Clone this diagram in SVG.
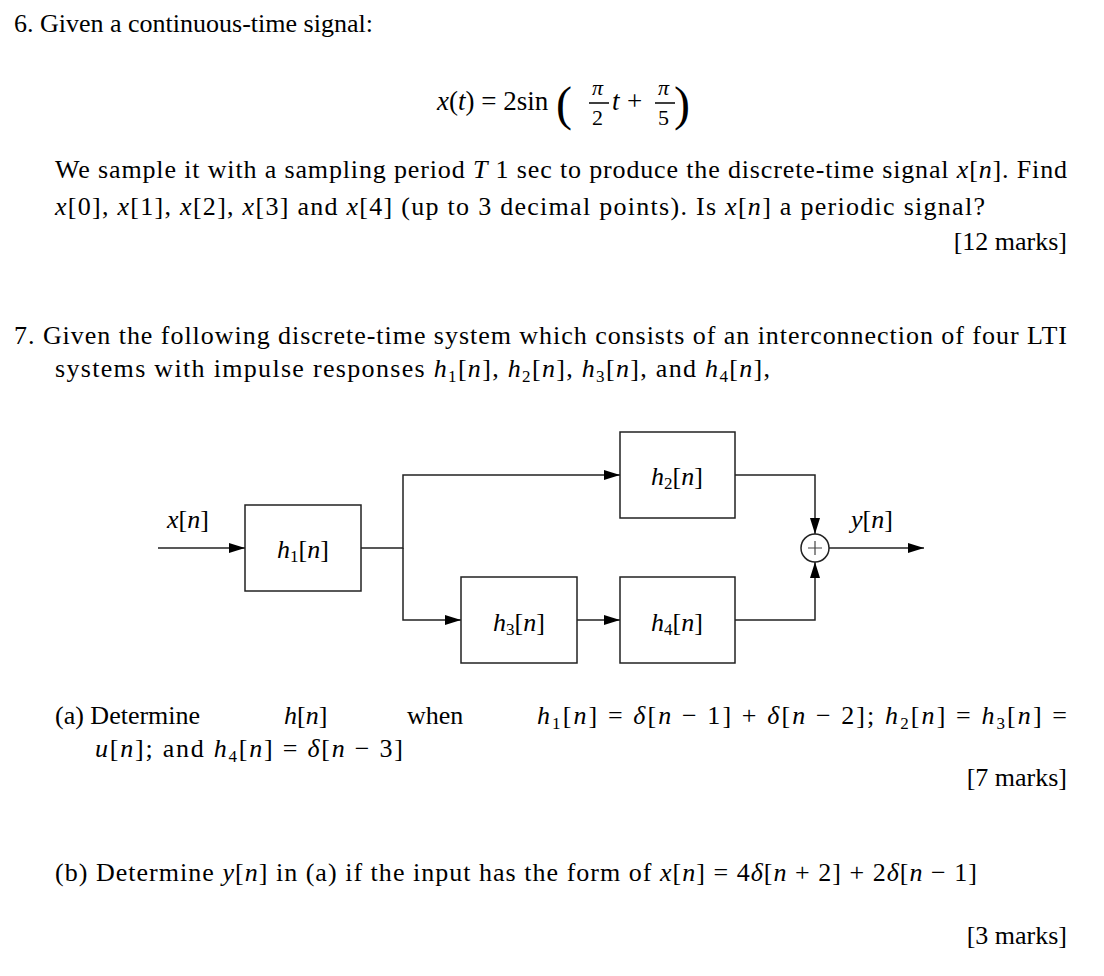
<svg xmlns="http://www.w3.org/2000/svg" width="1104" height="976" viewBox="0 0 1104 976">
<style>
text{font-family:"Liberation Serif","Times New Roman",serif;font-size:26px;fill:#000}
.i{font-style:italic}
.s{font-size:17px}
.f{font-size:22px}
.eq{font-size:27px}
.p{font-size:48px;font-weight:100}
.bx rect{fill:#fff;stroke:#222;stroke-width:1.5}
.bx text{font-size:26px;font-style:italic;text-anchor:middle}
.bx .s{font-size:17px;font-style:normal}
.bx .n{font-style:normal}
.lab{font-size:26px}
#conn path{fill:none;stroke:#222;stroke-width:1.5}
</style>
<defs><marker id="a" viewBox="0 0 16 12" refX="16" refY="6" markerWidth="16" markerHeight="12" markerUnits="userSpaceOnUse" orient="auto"><path d="M0,1 L16,6 L0,11z" fill="#000"/></marker></defs>
<rect width="1104" height="976" fill="#fff"/>
<text x="14" y="32">6.  Given a continuous-time signal:</text>
<text x="437" y="110" class="eq"><tspan class="i">x</tspan>(<tspan class="i">t</tspan>) = 2sin</text>
<text x="556" y="120" class="p">(</text>
<text x="592" y="95" class="i f">π</text>
<path d="M589 103H609M655 103H675" stroke="#000" stroke-width="1.3"/>
<text x="592" y="125" class="f">2</text>
<text x="612" y="110" class="i eq">t</text>
<text x="627" y="110" class="eq">+</text>
<text x="658" y="95" class="i f">π</text>
<text x="658" y="125" class="f">5</text>
<text x="674" y="120" class="p">)</text>
<text x="55" y="178" textLength="1012" lengthAdjust="spacing">We sample it with a sampling period <tspan class="i">T</tspan>    1 sec to produce the discrete-time signal <tspan class="i">x</tspan>[<tspan class="i">n</tspan>]. Find</text>
<text x="55" y="215" textLength="930" lengthAdjust="spacing"><tspan class="i">x</tspan>[0], <tspan class="i">x</tspan>[1], <tspan class="i">x</tspan>[2], <tspan class="i">x</tspan>[3] and <tspan class="i">x</tspan>[4] (up to 3 decimal points). Is <tspan class="i">x</tspan>[<tspan class="i">n</tspan>] a periodic signal?</text>
<text x="1067" y="250" text-anchor="end">[12 marks]</text>
<text x="14" y="344" textLength="1053" lengthAdjust="spacing">7.  Given the following discrete-time system which consists of an interconnection of four LTI</text>
<text x="55" y="377" textLength="715" lengthAdjust="spacing">systems with impulse responses <tspan class="i">h</tspan><tspan class="s" dy="5">1</tspan><tspan dy="-5">[</tspan><tspan class="i">n</tspan>], <tspan class="i">h</tspan><tspan class="s" dy="5">2</tspan><tspan dy="-5">[</tspan><tspan class="i">n</tspan>], <tspan class="i">h</tspan><tspan class="s" dy="5">3</tspan><tspan dy="-5">[</tspan><tspan class="i">n</tspan>], and <tspan class="i">h</tspan><tspan class="s" dy="5">4</tspan><tspan dy="-5">[</tspan><tspan class="i">n</tspan>],</text>
<g id="conn">
<path d="M158 548H245" marker-end="url(#a)"/>
<path d="M361 548H403V475H620" marker-end="url(#a)"/>
<path d="M403 548V620H461" marker-end="url(#a)"/>
<path d="M577 620H620" marker-end="url(#a)"/>
<path d="M735 475H815V534" marker-end="url(#a)"/>
<path d="M735 620H815V562" marker-end="url(#a)"/>
<path d="M829 548H924" marker-end="url(#a)"/>
</g>
<g id="h1" class="bx"><rect x="245" y="505" width="116" height="86"/><text x="303" y="558">h<tspan class="s" dy="4">1</tspan><tspan class="n" dy="-4">[</tspan>n<tspan class="n">]</tspan></text></g>
<g id="h2" class="bx"><rect x="620" y="432" width="115" height="86"/><text x="677" y="485">h<tspan class="s" dy="4">2</tspan><tspan class="n" dy="-4">[</tspan>n<tspan class="n">]</tspan></text></g>
<g id="h3" class="bx"><rect x="461" y="577" width="116" height="86"/><text x="519" y="631">h<tspan class="s" dy="4">3</tspan><tspan class="n" dy="-4">[</tspan>n<tspan class="n">]</tspan></text></g>
<g id="h4" class="bx"><rect x="620" y="577" width="115" height="86"/><text x="677" y="631">h<tspan class="s" dy="4">4</tspan><tspan class="n" dy="-4">[</tspan>n<tspan class="n">]</tspan></text></g>
<g id="sum"><circle cx="815" cy="548" r="14" fill="#fff" stroke="#222" stroke-width="1.5"/><path d="M808 548H822M815 541V555" stroke="#444" stroke-width="1.2"/></g>
<text x="188" y="528" text-anchor="middle" class="lab"><tspan class="i">x</tspan>[<tspan class="i">n</tspan>]</text>
<text x="872" y="528" text-anchor="middle" class="lab"><tspan class="i">y</tspan>[<tspan class="i">n</tspan>]</text>
<text x="55" y="724">(a) Determine</text>
<text x="284" y="724"><tspan class="i">h</tspan>[<tspan class="i">n</tspan>]</text>
<text x="407" y="724">when</text>
<text x="537" y="724" textLength="530" lengthAdjust="spacing"><tspan class="i">h</tspan><tspan class="s" dy="5">1</tspan><tspan dy="-5">[</tspan><tspan class="i">n</tspan>] = <tspan class="i">δ</tspan>[<tspan class="i">n</tspan> − 1] + <tspan class="i">δ</tspan>[<tspan class="i">n</tspan> − 2]; <tspan class="i">h</tspan><tspan class="s" dy="5">2</tspan><tspan dy="-5">[</tspan><tspan class="i">n</tspan>] = <tspan class="i">h</tspan><tspan class="s" dy="5">3</tspan><tspan dy="-5">[</tspan><tspan class="i">n</tspan>] =</text>
<text x="95" y="757" textLength="308" lengthAdjust="spacing"><tspan class="i">u</tspan>[<tspan class="i">n</tspan>]; and <tspan class="i">h</tspan><tspan class="s" dy="5">4</tspan><tspan dy="-5">[</tspan><tspan class="i">n</tspan>] = <tspan class="i">δ</tspan>[<tspan class="i">n</tspan> − 3]</text>
<text x="1067" y="786" text-anchor="end">[7 marks]</text>
<text x="55" y="881" textLength="922" lengthAdjust="spacing">(b) Determine <tspan class="i">y</tspan>[<tspan class="i">n</tspan>] in (a) if the input has the form of <tspan class="i">x</tspan>[<tspan class="i">n</tspan>] = 4<tspan class="i">δ</tspan>[<tspan class="i">n</tspan> + 2] + 2<tspan class="i">δ</tspan>[<tspan class="i">n</tspan> − 1]</text>
<text x="1067" y="944" text-anchor="end">[3 marks]</text>
</svg>
